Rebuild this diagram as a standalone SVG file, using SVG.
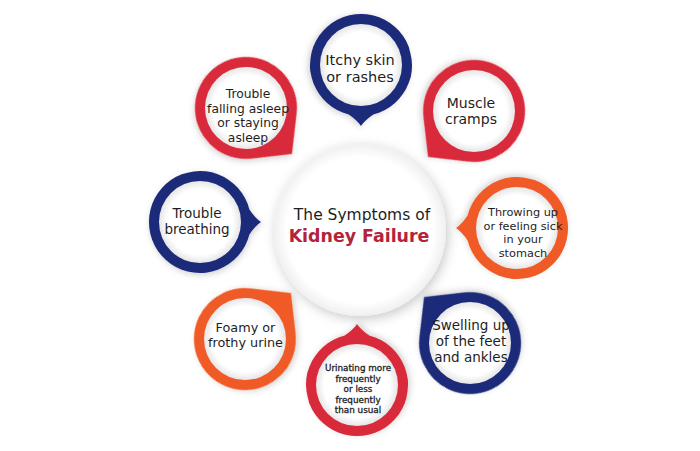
<svg xmlns="http://www.w3.org/2000/svg" width="700" height="451" viewBox="0 0 700 451">
<style>
.t{font-family:"DejaVu Sans","Open Sans",sans-serif;fill:#1e1e1e;text-anchor:middle}
.navy{fill:#1f2a7a}
.red{fill:#d92a3a}
.orange{fill:#f05a25}
.inner{fill:url(#ig)}
</style>
<defs>
<path id="corner" d="M65 0 L40 31.6 A51 51 0 1 1 40 -31.6 Z"/>
<path id="pointer" d="M49.4 -12.5 Q55 -4 61 0 Q55 4 49.4 12.5 A51 51 0 1 1 49.4 -12.5 Z"/>
<radialGradient id="ig" cx="0.5" cy="0.5" r="0.5">
<stop offset="0.8" stop-color="#ffffff"/>
<stop offset="1" stop-color="#e6e6e6"/>
</radialGradient>
<radialGradient id="cg" cx="0.5" cy="0.5" r="0.5">
<stop offset="0.85" stop-color="#ffffff"/>
<stop offset="1" stop-color="#f0f0f0"/>
</radialGradient>
<filter id="sh" x="-30%" y="-30%" width="160%" height="160%">
<feGaussianBlur in="SourceAlpha" stdDeviation="6"/>
<feOffset dx="2" dy="3" result="b"/>
<feFlood flood-color="#000" flood-opacity="0.22"/>
<feComposite in2="b" operator="in"/>
<feMerge><feMergeNode/><feMergeNode in="SourceGraphic"/></feMerge>
</filter>
<filter id="sh2" x="-30%" y="-30%" width="160%" height="160%">
<feGaussianBlur in="SourceAlpha" stdDeviation="3"/>
<feOffset dx="1" dy="2" result="b"/>
<feFlood flood-color="#000" flood-opacity="0.18"/>
<feComposite in2="b" operator="in"/>
<feMerge><feMergeNode/><feMergeNode in="SourceGraphic"/></feMerge>
</filter>
</defs>
<rect width="700" height="451" fill="#ffffff"/>

<g id="center">
<circle cx="360" cy="230" r="86" fill="url(#cg)" filter="url(#sh)"/>
<text class="t" x="362" y="220" font-size="15.5">The Symptoms of</text>
<text class="t" x="359" y="242" font-size="17.4" font-weight="700" style="fill:#b3233a">Kidney Failure</text>
</g>

<g id="itchy" transform="translate(361,65)">
<use href="#pointer" class="navy" transform="rotate(90)" filter="url(#sh2)"/>
<circle r="41" class="inner"/>
<text class="t" x="-1" y="0" font-size="14.5">Itchy skin</text>
<text class="t" x="-1" y="17" font-size="14.5">or rashes</text>
</g>

<g id="muscle" transform="translate(474,111)">
<use href="#corner" class="red" transform="rotate(135)" filter="url(#sh2)"/>
<circle r="41" class="inner"/>
<text class="t" x="-3" y="-3.5" font-size="14">Muscle</text>
<text class="t" x="-3" y="13" font-size="14">cramps</text>
</g>

<g id="throwing" transform="translate(517,228)">
<use href="#pointer" class="orange" transform="rotate(180)" filter="url(#sh2)"/>
<circle r="41" class="inner"/>
<text class="t" x="6" y="-12" font-size="11.3">Throwing up</text>
<text class="t" x="6" y="1.5" font-size="11.3">or feeling sick</text>
<text class="t" x="6" y="15" font-size="11.3">in your</text>
<text class="t" x="6" y="28.5" font-size="11.3">stomach</text>
</g>

<g id="swelling" transform="translate(470,343)">
<use href="#corner" class="navy" transform="rotate(225)" filter="url(#sh2)"/>
<circle r="41" class="inner"/>
<text class="t" x="1" y="-13" font-size="13.5">Swelling up</text>
<text class="t" x="1" y="2.8" font-size="13.5">of the feet</text>
<text class="t" x="1" y="18.6" font-size="13.5">and ankles</text>
</g>

<g id="urinating" transform="translate(357,385)">
<use href="#pointer" class="red" transform="rotate(270)" filter="url(#sh2)"/>
<circle r="41" class="inner"/>
<g stroke="#1e1e1e" stroke-width="0.3">
<text class="t" x="1" y="-14" font-size="8.8">Urinating more</text>
<text class="t" x="1" y="-3.5" font-size="8.8">frequently</text>
<text class="t" x="1" y="7" font-size="8.8">or less</text>
<text class="t" x="1" y="17.5" font-size="8.8">frequently</text>
<text class="t" x="1" y="28" font-size="8.8">than usual</text>
</g>
</g>

<g id="foamy" transform="translate(245,339)">
<use href="#corner" class="orange" transform="rotate(315)" filter="url(#sh2)"/>
<circle r="41" class="inner"/>
<text class="t" x="0.5" y="-7" font-size="12.8">Foamy or</text>
<text class="t" x="0.5" y="8" font-size="12.8">frothy urine</text>
</g>

<g id="breathing" transform="translate(200,222)">
<use href="#pointer" class="navy" filter="url(#sh2)"/>
<circle r="41" class="inner"/>
<text class="t" x="-3" y="-4" font-size="13.5">Trouble</text>
<text class="t" x="-3" y="12" font-size="13.5">breathing</text>
</g>

<g id="asleep" transform="translate(246,108)">
<use href="#corner" class="red" transform="rotate(45)" filter="url(#sh2)"/>
<circle r="41" class="inner"/>
<text class="t" x="2" y="-10" font-size="12.3">Trouble</text>
<text class="t" x="2" y="4.5" font-size="12.3">falling asleep</text>
<text class="t" x="2" y="19" font-size="12.3">or staying</text>
<text class="t" x="2" y="33.5" font-size="12.3">asleep</text>
</g>
</svg>
